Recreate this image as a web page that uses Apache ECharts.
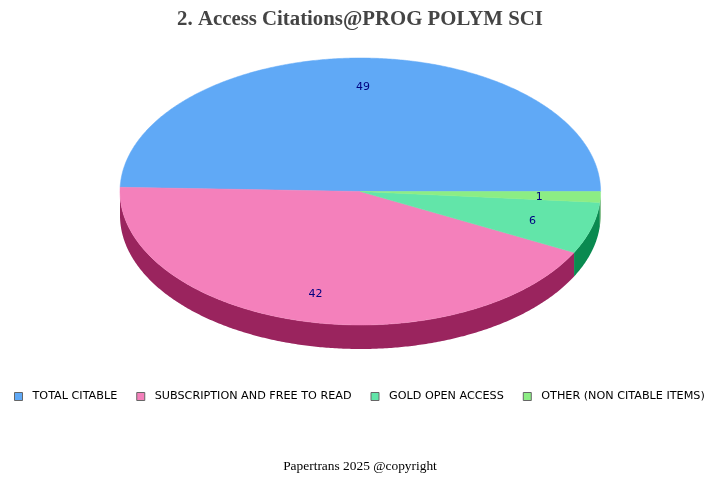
<!DOCTYPE html>
<html>
<head>
<meta charset="utf-8">
<style>html,body{margin:0;padding:0;background:#fff}#c{width:720px;height:480px}</style>
<script src="https://cdn.jsdelivr.net/npm/echarts@6/dist/echarts.min.js"></script>
</head>
<body>
<div id="c"></div>
<script>
const categories = ['TOTAL CITABLE', 'SUBSCRIPTION AND FREE TO READ', 'GOLD OPEN ACCESS', 'OTHER (NON CITABLE ITEMS)'];
const values = [49.5, 42.95, 6.25, 1.3];
const shownLabels = ['49', '42', '6', '1'];
const topColors = ['#60a9f6', '#f480bb', '#62e5a9', '#8ced84'];
const wallColors = ['#2a6fc0', '#9a245e', '#0a8a50', '#3f9a4a'];

const CX = 360.3, CY = 191.5, RX = 240.3, RY = 133.5, DEPTH = 24, LABEL_RX = 0.745, LABEL_RY = 0.79;
const total = values.reduce((a, b) => a + b, 0);
const rad = d => d * Math.PI / 180;
const pt = (deg, dy) => [CX + RX * Math.cos(rad(deg)), CY + RY * Math.sin(rad(deg)) + (dy || 0)];

// Screen angles, clockwise from 3 o'clock. Slices run counter-clockwise from 0.
function sliceRange(i) {
  let before = 0;
  for (let k = 0; k < i; k++) before += values[k];
  const end = 360 - before / total * 360;
  const start = end - values[i] / total * 360;
  return [start, end];
}
function arc(a, b, dy) {
  const pts = [], n = Math.max(2, Math.ceil((b - a) * 2));
  for (let k = 0; k <= n; k++) pts.push(pt(a + (b - a) * k / n, dy));
  return pts;
}
const renderSlice = i => () => {
  const [a, b] = sliceRange(i);
  const children = [];
  const wa = Math.max(a, 0), wb = Math.min(b, 180);
  if (wb > wa) {
    children.push({
      type: 'polygon', z2: 1,
      shape: { points: arc(wa, wb, 0).concat(arc(wa, wb, DEPTH).reverse()) },
      style: { fill: wallColors[i] }
    });
  }
  children.push({
    type: 'polygon', z2: 5,
    shape: { points: [[CX, CY]].concat(arc(a, b, 0)) },
    style: { fill: topColors[i], stroke: topColors[i], lineWidth: 0.5 }
  });
  const mid = (a + b) / 2;
  children.push({
    type: 'text', z2: 10,
    style: {
      x: CX + RX * LABEL_RX * Math.cos(rad(mid)),
      y: CY + 1 + RY * LABEL_RY * Math.sin(rad(mid)),
      text: shownLabels[i],
      fill: '#000080',
      font: '11px "DejaVu Sans"',
      align: 'center', verticalAlign: 'middle'
    }
  });
  return { type: 'group', children };
};

const chart = echarts.init(document.getElementById('c'));
chart.setOption({
  animation: false,
  backgroundColor: '#fff',
  title: [
    { text: '2. Access Citations@PROG POLYM SCI', left: 'center', top: 4,
      textStyle: { fontFamily: '"Liberation Serif"', fontSize: 20.8, fontWeight: 'bold', color: '#444444' } },
    { text: 'Papertrans 2025 @copyright', left: 'center', top: 455,
      textStyle: { fontFamily: '"Liberation Serif"', fontSize: 13.4, fontWeight: 'normal', color: '#000000' } }
  ],
  legend: {
    data: categories,
    left: 9, top: 386,
    itemWidth: 8, itemHeight: 8, itemGap: 19,
    icon: 'rect',
    itemStyle: { borderColor: '#666666', borderWidth: 1 },
    textStyle: { fontFamily: '"DejaVu Sans"', fontSize: 11.2, color: '#000000', padding: [0, 0, 0, 5] },
    selectedMode: false
  },
  series: categories.map((name, i) => ({
    type: 'custom',
    name,
    coordinateSystem: 'none',
    itemStyle: { color: topColors[i] },
    data: [[values[i]]],
    silent: true,
    renderItem: renderSlice(i)
  }))
});
</script>
</body>
</html>
